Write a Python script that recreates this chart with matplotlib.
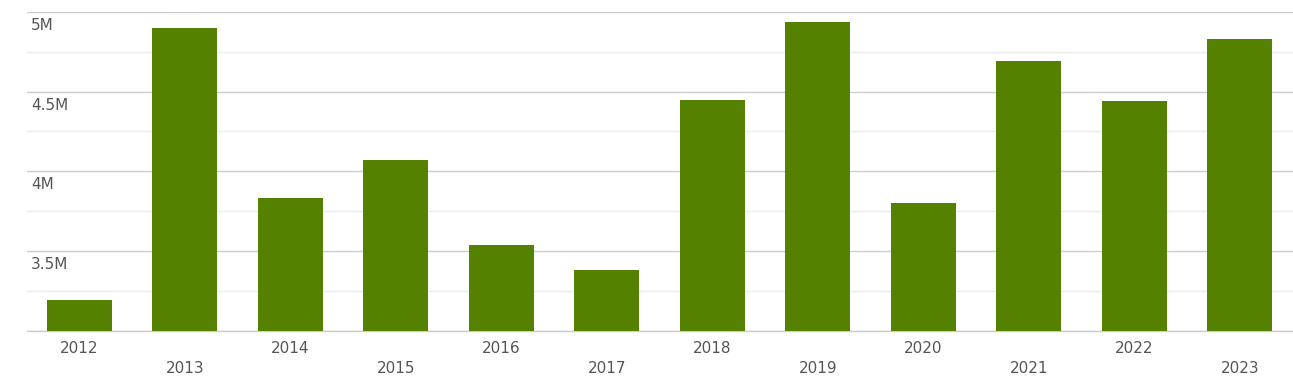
import matplotlib.pyplot as plt
from matplotlib.ticker import MultipleLocator

# data
years = [str(y) for y in range(2012, 2024)]
values = [3.19e6, 4.90e6, 3.83e6, 4.07e6, 3.54e6, 3.38e6,
          4.45e6, 4.94e6, 3.80e6, 4.69e6, 4.44e6, 4.83e6]
ytick_vals = [3.5e6, 4.0e6, 4.5e6, 5.0e6]
ytick_labels = ["3.5M", "4M", "4.5M", "5M"]

W, H = 1293, 384
fig = plt.figure(figsize=(W / 100, H / 100), dpi=100)
ax = fig.add_axes([26.5 / W, (H - 330.6) / H, (1292.5 - 26.5) / W, (330.6 - 12) / H])

x = range(len(years))
ax.bar(x, values, width=0.616, color="#548200", zorder=3)

ax.set_xlim(-0.5, len(years) - 0.5)
ax.set_ylim(3.0e6, 5.0e6)

# gridlines
ax.yaxis.set_major_locator(MultipleLocator(0.5e6))
ax.yaxis.set_minor_locator(MultipleLocator(0.25e6))
ax.grid(True, which="major", axis="y", color="#cccccc", linewidth=1, zorder=0)
ax.grid(True, which="minor", axis="y", color="#ebebeb", linewidth=1, zorder=0)
ax.tick_params(axis="y", which="both", length=0, labelleft=False)

for sp in ["top", "left", "right"]:
    ax.spines[sp].set_visible(False)
ax.spines["bottom"].set_color("#cccccc")
ax.spines["bottom"].set_linewidth(1)

# y labels sit inside the plot, just below each gridline
for v, lab in zip(ytick_vals, ytick_labels):
    ax.annotate(lab, xy=(0, v), xycoords=("axes fraction", "data"),
                xytext=(4.5, -13.5), textcoords="offset pixels",
                ha="left", va="center", fontsize=11, color="#555555")

# x labels alternate between two rows
ax.set_xticks(list(x))
ax.set_xticklabels([])
ax.tick_params(axis="x", length=0)
for i, yr in enumerate(years):
    off = -17.5 if i % 2 == 0 else -37.5
    ax.annotate(yr, xy=(i, 0), xycoords=("data", "axes fraction"),
                xytext=(0, off), textcoords="offset pixels",
                ha="center", va="center", fontsize=11, color="#555555")

fig.savefig("out.png", dpi=100)
